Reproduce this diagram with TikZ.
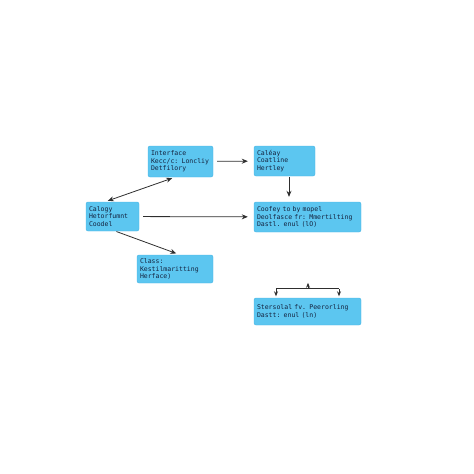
\documentclass[tikz,border=0pt]{standalone}
\usepackage{xcolor}
\usepackage{fontspec}
\setmonofont{DejaVu Sans Mono}
\usepackage{tikz}
\usetikzlibrary{positioning,calc,arrows.meta}

\definecolor{boxfill}{HTML}{5CC6F0}
\definecolor{boxline}{HTML}{45B4E4}
\definecolor{boxtext}{HTML}{14223E}
\definecolor{arrline}{HTML}{2E2E2E}
\newcommand{\clsfont}{\ttfamily\fontsize{6.5}{7.4}\selectfont\spaceskip=3.91pt\relax}

\begin{document}
\begin{tikzpicture}[x=1pt, y=-1pt,
		cls/.style={draw=boxline, fill=boxfill, rounded corners=2pt, inner xsep=3pt, inner ysep=2pt, align=left, text=boxtext, font=\clsfont},
		arr/.style={draw=arrline, line width=0.8pt, -{Stealth[length=6pt, width=5pt]}}]
					\useasboundingbox (0,0) rectangle (474,474);
					\node[cls, text width=59pt, minimum height=31pt] (iface) at (180.5,161.5) {Interface\\Kecc/c: Loncliy\\Detfilory};
					\node[cls, text width=55pt, minimum height=30pt] (caleay) at (284.5,161) {Cal\'eay\\Coatline\\Hertley};
					\node[cls, text width=47pt, minimum height=29pt] (calogy) at (112.5,216.5) {Calogy\\Hetorfumnt\\Coodel};
					\node[cls, text width=101pt, minimum height=30pt] (coofey) at (307.5,217) {Coofey to by mopel\\Deolfasce fr: Mmertilting\\Dastl. enul (lO)};
					\node[cls, text width=70pt, minimum height=28pt] (klass) at (175,269) {Class:\\Kestilmaritting\\Herface)};
					\node[cls, text width=101pt, minimum height=27pt] (stersolal) at (307.5,311.5) {Stersolal fv. Peerorling\\Dastt: enul (ln)};
					\draw[arr, shorten <=4pt, shorten >=6pt] (iface) -- (caleay);
					\draw[arr, shorten <=1pt, shorten >=5pt] ([xshift=4.5pt]caleay.south) -- ([xshift=4.5pt]caleay.south |- coofey.north);
					\draw[arr, {Stealth[length=6pt, width=5pt]}-{Stealth[length=6pt, width=5pt]}, shorten <=3pt, shorten >=3pt] ([xshift=-7.5pt]calogy.north) -- ([xshift=-5.5pt]iface.south);
					\draw[arr, shorten <=4pt, shorten >=6pt] (calogy) -- (coofey);
					\draw[arr, shorten <=1pt, shorten >=4pt] ([xshift=3pt]calogy.south) -- ([xshift=5pt]klass.north);
					\coordinate (fl) at ([shift={(-31.5,-9)}]stersolal.north);
					\coordinate (fr) at ([shift={(31.5,-9)}]stersolal.north);
					\coordinate (fm) at ([shift={(0.5,-9)}]stersolal.north);
					\coordinate (fld) at ([shift={(-31.5,-1.5)}]stersolal.north);
					\coordinate (frd) at ([shift={(31.5,-1.5)}]stersolal.north);
					\coordinate (fmu) at ([shift={(0.5,-15)}]stersolal.north);
					\draw[draw=arrline, line width=0.8pt] (fl) -- (fr);
					\draw[arr, -{Stealth[length=5pt, width=4pt]}] (fl) -- (fld);
					\draw[arr, -{Stealth[length=5pt, width=4pt]}] (fr) -- (frd);
					\draw[arr, -{Stealth[length=5pt, width=4pt]}] (fm) -- (fmu);
				\end{tikzpicture}
\end{document}
